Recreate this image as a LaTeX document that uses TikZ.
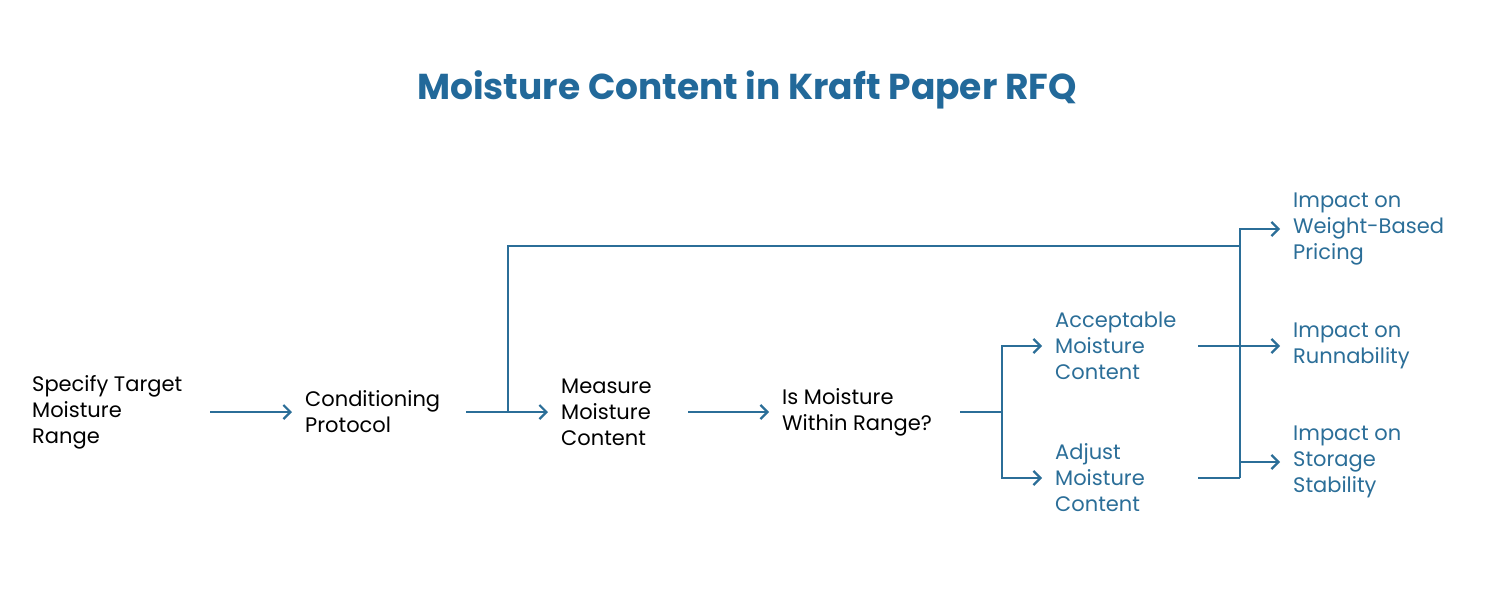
\documentclass[tikz,border=0pt]{standalone}
\usepackage{fontspec}
\setmainfont{Poppins}
\usetikzlibrary{positioning,arrows.meta}
\definecolor{flowblue}{HTML}{2B6E98}
\definecolor{titleblue}{HTML}{22699A}
\tikzset{
  stage/.style={anchor=west,align=left,font=\fontsize{21}{26}\selectfont,inner sep=0pt},
  outcome/.style={stage,text=flowblue},
  flow/.style={draw=flowblue,line width=2.2pt},
  arr/.style={flow,->,>={Straight Barb[length=7pt,width=14pt,line width=2.2pt]}},
}
\begin{document}
\begin{tikzpicture}[x=1pt,y=-1pt]
  \useasboundingbox (0,0) rectangle (1494,592);
  % Title
  \node[font=\fontsize{36}{42}\selectfont\bfseries,text=titleblue] (title) at (747,90) {Moisture Content in Kraft Paper RFQ};
  % Nodes
  \node[stage] (spec) at (32,412) {Specify Target\\Moisture\\Range};
  \node[stage] (cond) at (305,412) {Conditioning\\Protocol};
  \node[stage] (meas) at (561,412) {Measure\\Moisture\\Content};
  \node[stage] (check) at (782,412) {Is Moisture\\Within Range?};
  \node[outcome] (ok) at (1055,346) {Acceptable\\Moisture\\Content};
  \node[outcome] (adj) at (1055,478) {Adjust\\Moisture\\Content};
  \node[outcome] (price) at (1293,229) {Impact on\\Weight-Based\\Pricing};
  \node[outcome] (run) at (1293,346) {Impact on\\Runnability};
  \node[outcome] (stor) at (1293,462) {Impact on\\Storage\\Stability};
  % Junctions
  \coordinate (specE) at (210,412);
  \coordinate (condE) at (466,412);
  \coordinate (measE) at (688,412);
  \coordinate (checkE) at (960,412);
  \coordinate (split) at (1002,412);
  \coordinate (tap) at (508,412);
  \coordinate (top) at (1240,246);
  \coordinate (okE) at (1198,346);
  \coordinate (adjE) at (1198,478);
  \coordinate (merge) at (1240,478);
  % Edges
  \draw[arr] (specE) -- ([xshift=-13pt]cond.west);
  \draw[arr] (condE) -- ([xshift=-13pt]meas.west);
  \draw[arr] (measE) -- ([xshift=-13pt]check.west);
  \draw[flow] (checkE) -- (split);
  \draw[arr] (split) |- ([xshift=-13pt]ok.west);
  \draw[arr] (split) |- ([xshift=-13pt]adj.west);
  \draw[flow] (tap) |- (top);
  \draw[arr] (okE) -- ([xshift=-13pt]run.west);
  \draw[flow] (adjE) -- (merge);
  \draw[arr] (merge) |- ([xshift=-13pt]price.west);
  \draw[arr] (merge |- stor.west) -- ([xshift=-13pt]stor.west);
\end{tikzpicture}
\end{document}
